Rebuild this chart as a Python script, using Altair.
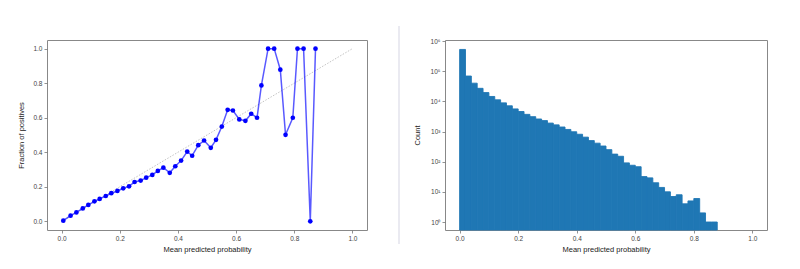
import altair as alt
import pandas as pd

# Calibration curve (left panel)
mean_pred = [0.006, 0.031, 0.051, 0.073, 0.092, 0.113, 0.131, 0.152, 0.171, 0.192,
             0.212, 0.232, 0.251, 0.272, 0.291, 0.312, 0.331, 0.350, 0.372, 0.391,
             0.411, 0.432, 0.449, 0.470, 0.490, 0.513, 0.531, 0.551, 0.571, 0.589,
             0.611, 0.632, 0.652, 0.672, 0.687, 0.710, 0.731, 0.752, 0.770, 0.795,
             0.811, 0.832, 0.855, 0.873]
frac_pos = [0.004, 0.033, 0.052, 0.075, 0.095, 0.116, 0.130, 0.147, 0.163, 0.176,
            0.191, 0.203, 0.228, 0.236, 0.253, 0.269, 0.292, 0.311, 0.281, 0.319,
            0.352, 0.404, 0.380, 0.441, 0.468, 0.426, 0.472, 0.549, 0.646, 0.642,
            0.590, 0.582, 0.623, 0.600, 0.787, 1.0, 1.0, 0.878, 0.501, 0.600,
            1.0, 1.0, 0.0, 1.0]

# Histogram (right panel)
bin_edges = [0.00, 0.02, 0.04, 0.06, 0.08, 0.10, 0.12, 0.14, 0.16, 0.18,
             0.20, 0.22, 0.24, 0.26, 0.28, 0.30, 0.32, 0.34, 0.36, 0.38,
             0.40, 0.42, 0.44, 0.46, 0.48, 0.50, 0.52, 0.54, 0.56, 0.58,
             0.60, 0.62, 0.64, 0.66, 0.68, 0.70, 0.72, 0.74, 0.76, 0.78,
             0.80, 0.82, 0.84, 0.86, 0.88]
counts = [525000, 69000, 40000, 27000, 19500, 14500, 11200, 8900, 7100, 5600,
          4600, 3700, 3100, 2600, 2300, 1900, 1660, 1410, 1170, 980,
          810, 650, 500, 410, 330, 250, 178, 151, 91, 76,
          68, 32, 29, 20, 14, 10, 7, 8, 4, 5,
          6, 2, 1, 1]

prob_ticks = [0.0, 0.2, 0.4, 0.6, 0.8, 1.0]
count_ticks = [1, 10, 100, 1000, 10000, 100000, 1000000]

cal_df = pd.DataFrame({"mean_pred": mean_pred, "frac_pos": frac_pos})
diag_df = pd.DataFrame({"mean_pred": [0.0, 1.0], "frac_pos": [0.0, 1.0]})
hist_df = pd.DataFrame({"lo": bin_edges[:-1], "hi": bin_edges[1:], "count": counts})

FONT = "Liberation Sans"
axis_style = dict(
    grid=False, domain=False, tickSize=3, tickColor="#777", tickWidth=0.8,
    labelFont=FONT, labelFontSize=6.5, labelColor="#444", labelPadding=2,
    titleFont=FONT, titleFontSize=7.5, titleColor="#222", titleFontWeight="normal",
)

x_cal = alt.X("mean_pred:Q",
              scale=alt.Scale(domain=[-0.05, 1.05], nice=False, zero=False),
              axis=alt.Axis(values=prob_ticks, format=".1f",
                            title="Mean predicted probability", titlePadding=4, **axis_style))
y_cal = alt.Y("frac_pos:Q",
              scale=alt.Scale(domain=[-0.05, 1.05], nice=False, zero=False),
              axis=alt.Axis(values=prob_ticks, format=".1f",
                            title="Fraction of positives", titlePadding=7, **axis_style))

diag = alt.Chart(diag_df).mark_line(color="#c4c4c4", strokeWidth=1, strokeDash=[1.5, 1.5]).encode(
    x=x_cal, y=y_cal)
cal_line = alt.Chart(cal_df).mark_line(color="#0000ff", opacity=0.65, strokeWidth=1.5).encode(
    x=x_cal, y=y_cal)
cal_pts = alt.Chart(cal_df).mark_point(filled=True, color="#0000ff", opacity=1, size=22).encode(
    x=x_cal, y=y_cal)
divider = alt.Chart(pd.DataFrame({"d": [0]})).mark_rule(color="#e3e3ec", strokeWidth=1.5).encode(
    x=alt.value(352), y=alt.value(-14), y2=alt.value(204))

left = alt.layer(diag, cal_line, cal_pts, divider).properties(width=320, height=190)

x_hist = alt.X("lo:Q",
               scale=alt.Scale(domain=[-0.05, 1.05], nice=False, zero=False),
               axis=alt.Axis(values=prob_ticks, format=".1f",
                             title="Mean predicted probability", titlePadding=4, **axis_style))
y_hist = alt.Y("count:Q",
               scale=alt.Scale(type="log", domain=[0.543, 1.08e6], nice=False),
               axis=alt.Axis(values=count_ticks, title="Count", titlePadding=8,
                             labelExpr="'10' + ['⁰','¹','²','³','⁴','⁵','⁶'][round(log(datum.value)/LN10)]",
                             **axis_style))

right = alt.Chart(hist_df).mark_rect(color="#1f77b4", stroke="#1f77b4", strokeWidth=0.9).encode(
    x=x_hist, x2="hi:Q", y=y_hist, y2=alt.datum(0.543)
).properties(width=322, height=190)

chart = alt.hconcat(left, right, spacing=78, bounds="flush").properties(
    padding={"left": 17, "top": 24, "right": 10, "bottom": 10},
    background="white",
).configure_view(stroke="#888", strokeWidth=1)

chart.save("out.html", embed_options={"renderer": "svg", "actions": False})
